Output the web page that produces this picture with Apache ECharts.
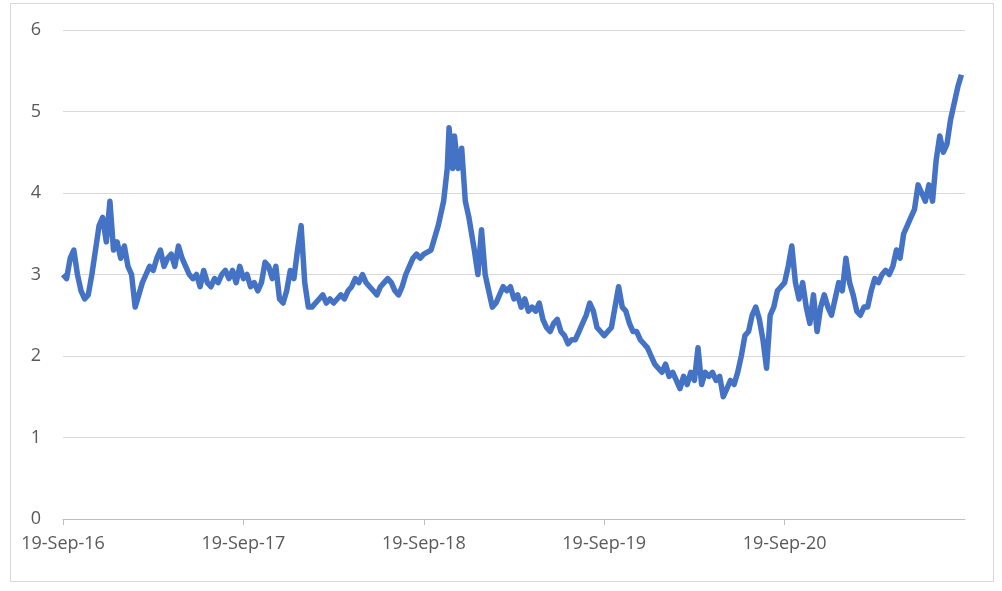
<!DOCTYPE html>
<html><head><meta charset="utf-8">
<script src="https://cdn.jsdelivr.net/npm/echarts@6/dist/echarts.min.js"></script>
<style>html,body{margin:0;padding:0;background:#fff}#frame{position:absolute;left:10px;top:3px;width:982px;height:577px;border:1px solid #d9d9d9}#c{width:1002px;height:591px;position:absolute;left:0;top:0}</style>
</head><body><div id="frame"></div><div id="c"></div>
<script>
const tickLabels = ['19-Sep-16','19-Sep-17','19-Sep-18','19-Sep-19','19-Sep-20'];
const years = [0,0.02,0.04,0.06,0.08,0.10,0.12,0.14,0.16,0.18,0.20,0.22,0.24,0.26,0.28,0.30,0.32,0.34,0.36,0.38,0.40,0.42,0.44,0.46,0.48,0.50,0.52,0.54,0.56,0.58,0.60,0.62,0.64,0.66,0.68,0.70,0.72,0.74,0.76,0.78,0.80,0.82,0.84,0.86,0.88,0.90,0.92,0.94,0.96,0.98,1.00,1.02,1.04,1.06,1.08,1.10,1.12,1.14,1.16,1.18,1.20,1.22,1.24,1.26,1.28,1.30,1.32,1.34,1.36,1.38,1.40,1.42,1.44,1.46,1.48,1.50,1.52,1.54,1.56,1.58,1.60,1.62,1.64,1.66,1.68,1.70,1.72,1.74,1.76,1.78,1.80,1.82,1.84,1.86,1.88,1.90,1.92,1.94,1.96,1.98,2.00,2.04,2.08,2.11,2.13,2.14,2.16,2.17,2.19,2.21,2.23,2.25,2.28,2.30,2.32,2.34,2.36,2.38,2.40,2.42,2.44,2.46,2.48,2.50,2.52,2.54,2.56,2.58,2.60,2.62,2.64,2.66,2.68,2.70,2.72,2.74,2.76,2.78,2.80,2.82,2.84,2.86,2.88,2.90,2.92,2.94,2.96,2.98,3.00,3.02,3.04,3.06,3.08,3.10,3.12,3.14,3.16,3.18,3.20,3.22,3.24,3.26,3.28,3.30,3.32,3.34,3.36,3.38,3.40,3.42,3.44,3.46,3.48,3.50,3.52,3.54,3.56,3.58,3.60,3.62,3.64,3.66,3.68,3.70,3.72,3.74,3.76,3.78,3.80,3.82,3.84,3.86,3.88,3.90,3.92,3.94,3.96,3.98,4.00,4.02,4.04,4.06,4.08,4.10,4.12,4.14,4.16,4.18,4.20,4.22,4.24,4.26,4.28,4.30,4.32,4.34,4.36,4.38,4.40,4.42,4.44,4.46,4.48,4.50,4.52,4.54,4.56,4.58,4.60,4.62,4.64,4.66,4.68,4.70,4.72,4.74,4.76,4.78,4.80,4.82,4.84,4.86,4.88,4.90,4.92,4.94,4.96,4.98];
const values = [3.0,2.95,3.2,3.3,3.0,2.8,2.7,2.75,3.0,3.3,3.6,3.7,3.4,3.9,3.3,3.4,3.2,3.35,3.1,3.0,2.6,2.75,2.9,3.0,3.1,3.05,3.2,3.3,3.1,3.2,3.25,3.1,3.35,3.2,3.1,3.0,2.95,3.0,2.85,3.05,2.9,2.85,2.95,2.9,3.0,3.05,2.95,3.05,2.9,3.1,2.95,3.0,2.85,2.9,2.8,2.9,3.15,3.1,2.95,3.1,2.7,2.65,2.8,3.05,2.95,3.3,3.6,2.9,2.6,2.6,2.65,2.7,2.75,2.65,2.7,2.65,2.7,2.75,2.7,2.8,2.85,2.95,2.9,3.0,2.9,2.85,2.8,2.75,2.85,2.9,2.95,2.9,2.8,2.75,2.85,3.0,3.1,3.2,3.25,3.2,3.25,3.3,3.6,3.9,4.3,4.8,4.3,4.7,4.3,4.55,3.9,3.7,3.3,3.0,3.55,3.0,2.8,2.6,2.65,2.75,2.85,2.8,2.85,2.7,2.75,2.6,2.7,2.55,2.6,2.55,2.65,2.45,2.35,2.3,2.4,2.45,2.3,2.25,2.15,2.2,2.2,2.3,2.4,2.5,2.65,2.55,2.35,2.3,2.25,2.3,2.35,2.6,2.85,2.6,2.55,2.4,2.3,2.3,2.2,2.15,2.1,2.0,1.9,1.85,1.8,1.9,1.75,1.8,1.7,1.6,1.75,1.65,1.8,1.7,2.1,1.65,1.8,1.75,1.8,1.7,1.75,1.5,1.6,1.7,1.65,1.8,2.0,2.25,2.3,2.5,2.6,2.45,2.2,1.85,2.5,2.6,2.8,2.85,2.9,3.1,3.35,2.9,2.7,2.9,2.6,2.4,2.75,2.3,2.6,2.75,2.6,2.5,2.7,2.9,2.8,3.2,2.9,2.75,2.55,2.5,2.6,2.6,2.8,2.95,2.9,3.0,3.05,3.0,3.1,3.3,3.2,3.5,3.6,3.7,3.8,4.1,4.0,3.9,4.1,3.9,4.4,4.7,4.5,4.6,4.9,5.1,5.3,5.45];
const chart = echarts.init(document.getElementById('c'));
chart.setOption({
  animation:false,
  grid:{left:63,right:37,top:30,bottom:72},
  xAxis:{type:'value',min:0,max:5,interval:1,
    axisLine:{lineStyle:{color:'#bfbfbf'}},
    axisTick:{show:true,length:6,lineStyle:{color:'#bfbfbf'}},
    splitLine:{show:false},
    axisLabel:{color:'#595959',fontSize:18,fontFamily:'Open Sans',margin:16,showMaxLabel:false,
      formatter:v=>tickLabels[Math.round(v)]||''}},
  yAxis:{type:'value',min:0,max:6,interval:1,
    axisLine:{show:false},axisTick:{show:false},
    splitLine:{lineStyle:{color:'#d9d9d9'}},
    axisLabel:{color:'#595959',fontSize:18,fontFamily:'Open Sans',margin:22}},
  series:[{type:'line',showSymbol:false,data:years.map((y,i)=>[y,values[i]]),
    lineStyle:{color:'#4472C4',width:5.5,join:'round'},itemStyle:{color:'#4472C4'}}]
});
</script></body></html>
